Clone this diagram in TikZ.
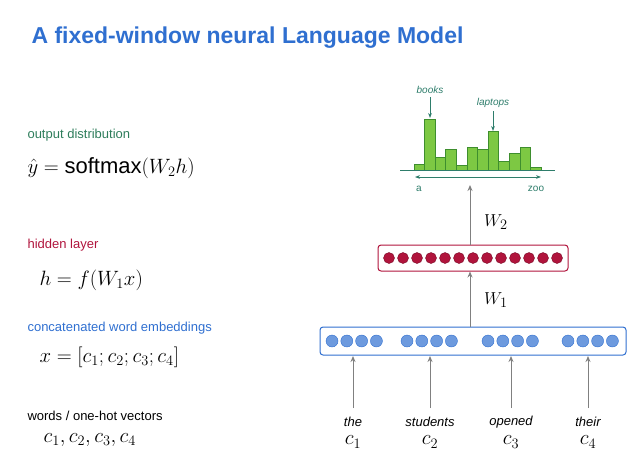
\documentclass[tikz,border=0pt]{standalone}
\usepackage{fontspec}
\setmainfont{Latin Modern Roman}
\newfontfamily\sans{Liberation Sans}
\usetikzlibrary{arrows.meta}
\definecolor{ttl}{HTML}{2F6FD0}
\definecolor{grn}{HTML}{2E7D5B}
\definecolor{hred}{HTML}{B0143C}
\definecolor{ebl}{HTML}{2F6FD0}
\definecolor{barf}{HTML}{7DC843}
\definecolor{bard}{HTML}{3E8E2E}
\definecolor{teal}{HTML}{2E7D6B}
\begin{document}
\begin{tikzpicture}[x=1pt,y=-1pt,
 lbl/.style={anchor=west,font=\sans\fontsize{13}{13}\selectfont},
 eq/.style={anchor=west,font=\fontsize{22}{22}\selectfont},
 up/.style={draw=gray,line width=1pt,-{Stealth[length=6pt,width=5pt]}},
 bar/.style={fill=barf,draw=bard,line width=0.8pt},
 hid/.style={circle,fill=hred,draw=hred!70!black,minimum size=11pt,inner sep=0pt},
 emb/.style={circle,fill=ebl!70!white,draw=ebl,minimum size=12pt,inner sep=0pt},
 wd/.style={font=\sans\itshape\fontsize{13}{13}\selectfont},
 sm/.style={text=teal,font=\sans\itshape\fontsize{10}{10}\selectfont},
 cc/.style={font=\fontsize{22}{22}\selectfont}]
\useasboundingbox (0,0) rectangle (639,469);
\node[anchor=west,text=ttl,font=\sans\bfseries\fontsize{23}{23}\selectfont] (title) at (28,38) {A fixed-window neural Language Model};
\node[lbl,text=grn] (l1) at (24,135) {output distribution};
\node[eq] (e1) at (24,168) {$\hat y = \hbox{\sans softmax}(W_2h)$};
\node[lbl,text=hred] (l2) at (24,245) {hidden layer};
\node[eq] (e2) at (36,280) {$h = f(W_1x)$};
\node[lbl,text=ebl] (l3) at (24,328) {concatenated word embeddings};
\node[eq] (e3) at (36,357) {$x = [c_1;c_2;c_3;c_4]$};
\node[lbl] (l4) at (24,416) {words / one-hot vectors};
\node[eq] (e4) at (40,440) {$c_1,c_2,c_3,c_4$};
% histogram
\foreach \t [count=\i from 0] in {164.3,119,157.7,149.7,165,147.7,149.7,131.7,161,153.3,147,167}
 \draw[bar] ({414+\i*10.6},170) rectangle ({414+(\i+1)*10.6},\t);
\draw[teal,line width=1pt] (400,170) -- (555,170);
\coordinate (ha) at (415,177); \coordinate (hz) at (541,177);
\draw[teal,line width=0.9pt,{Stealth[length=5pt]}-{Stealth[length=5pt]}] (ha) -- (hz);
\node[sm,font=\sans\fontsize{10}{10}\selectfont] (a) at (419,189) {a};
\node[sm,font=\sans\fontsize{10}{10}\selectfont] (zoo) at (536,189) {zoo};
\node[sm] (books) at (430,90) {books};
\node[sm] (laptops) at (493,103) {laptops};
\coordinate (bt) at (430,118); \coordinate (lt) at (493,131);
\draw[teal,line width=0.8pt,-{Stealth[length=5pt]}] (books) -- (bt);
\draw[teal,line width=0.8pt,-{Stealth[length=5pt]}] (laptops) -- (lt);
% hidden
\node[draw=hred,line width=1pt,rounded corners=3pt,minimum width=190pt,minimum height=26pt] (hbox) at (473,258) {};
\foreach \i in {0,...,12} \node[hid] (h\i) at ({389+\i*14},258) {};
\coordinate (htop) at (470,185);
\draw[up] (hbox.north -| htop) -- (htop);
\node[cc,font=\fontsize{19}{19}\selectfont] (w2) at (496,222) {$W_2$};
% embeddings
\node[draw=ebl,line width=1pt,rounded corners=3pt,minimum width=306pt,minimum height=28pt] (ebox) at (473,341) {};
\foreach \g/\s in {0/332,1/407,2/488,3/568}
 \foreach \j in {0,...,3} \node[emb] (c\g\j) at ({\s+\j*14.8},341) {};
\draw[up] (ebox.north -| htop) -- (hbox.south -| htop);
\node[cc,font=\fontsize{19}{19}\selectfont] (w1) at (496,300) {$W_1$};
% words
\foreach \x/\w/\k in {353/the/1,430/students/2,511/opened/3,588/their/4}{
 \node[wd] (w\k) at (\x,422) {\w};
 \node[cc] (cc\k) at (\x,442) {$c_\k$};
 \coordinate (b\k) at (\x,408);
 \draw[up] (b\k) -- (\x,356);
}
\end{tikzpicture}
\end{document}
